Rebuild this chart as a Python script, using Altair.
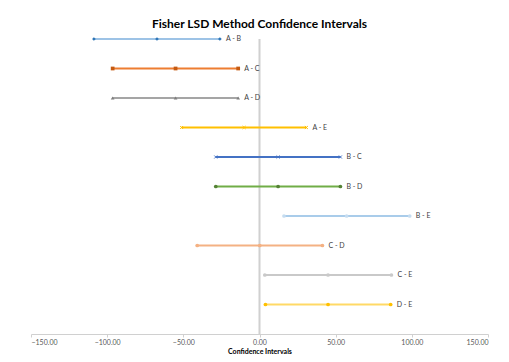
import altair as alt
import pandas as pd

pairs = ["A - B", "A - C", "A - D", "A - E", "B - C", "B - D", "B - E", "C - D", "C - E", "D - E"]
lower = [-108.7, -96.4, -96.4, -51.1, -28.7, -28.7, 16.1, -40.9, 3.5, 3.9]
diff = [-67.3, -55.1, -55.1, -10.1, 12.2, 12.2, 57.2, 0.2, 45.0, 45.0]
upper = [-26.0, -14.0, -14.0, 30.8, 53.1, 53.1, 98.6, 41.3, 86.6, 86.1]
rows = [10, 9, 8, 7, 6, 5, 4, 3, 2, 1]
x_ticks = [-150, -100, -50, 0, 50, 100, 150]

line_colors = ["#9DC3E6", "#ED7D31", "#A5A5A5", "#FFC000", "#4472C4",
               "#70AD47", "#A9CCEA", "#F4B183", "#C9C9C9", "#FFD966"]
marker_colors = ["#2E75B6", "#C55A11", "#7F7F7F", "#FFC000", "#4472C4",
                 "#548235", "#C5DCF0", "#F4B183", "#C9C9C9", "#FFC000"]
xpath = "M-0.8,-0.8L0.8,0.8M-0.8,0.8L0.8,-0.8"
marker_shapes = ["diamond", "square", "triangle-up", xpath, xpath,
                 "circle", "circle", "circle", "circle", "circle"]
marker_sizes = [14, 14, 14, 14, 14, 12, 4, 1, 1, 8]
cross_pairs = ["A - E", "B - C"]

df = pd.DataFrame({"pair": pairs, "row": rows, "lower": lower, "diff": diff, "upper": upper})
pts = df.melt(id_vars=["pair", "row"], value_vars=["lower", "diff", "upper"],
              var_name="which", value_name="val")

xscale = alt.Scale(domain=[-150, 150], nice=False, zero=False)
yscale = alt.Scale(domain=[0, 10], nice=False, zero=False)

base = alt.Chart(df)

zero_line = alt.Chart(pd.DataFrame({"x": [0], "y": [0], "y2": [10]})).mark_rule(
    color="#D0D0D0", strokeWidth=2
).encode(
    x=alt.X("x:Q", scale=xscale),
    y=alt.Y("y:Q", scale=yscale, axis=None),
    y2="y2:Q",
)

rules = base.mark_rule(strokeWidth=2).encode(
    x=alt.X("lower:Q", scale=xscale, title="Confidence Intervals",
            axis=alt.Axis(values=x_ticks, format=".2f", grid=False,
                          labelFontSize=7, labelColor="#595959", labelFont="Lato",
                          domainColor="#D0D0D0", tickColor="#D0D0D0", tickSize=3,
                          labelPadding=1, titleFont="Lato", titleFontSize=7,
                          titleFontWeight="bold", titleColor="#000000", titlePadding=2)),
    x2="upper:Q",
    y=alt.Y("row:Q", scale=yscale, axis=None),
    color=alt.Color("pair:N", scale=alt.Scale(domain=pairs, range=line_colors), legend=None),
)

mcolor = alt.Color("pair:N", scale=alt.Scale(domain=pairs, range=marker_colors), legend=None)
mshape = alt.Shape("pair:N", scale=alt.Scale(domain=pairs, range=marker_shapes), legend=None)
msize = alt.Size("pair:N", scale=alt.Scale(domain=pairs, range=marker_sizes), legend=None)

points_filled = alt.Chart(pts).transform_filter(
    ~alt.FieldOneOfPredicate(field="pair", oneOf=cross_pairs)
).mark_point(filled=True, opacity=1).encode(
    x=alt.X("val:Q", scale=xscale),
    y=alt.Y("row:Q", scale=yscale, axis=None),
    color=mcolor, shape=mshape, size=msize,
)

points_cross = alt.Chart(pts).transform_filter(
    alt.FieldOneOfPredicate(field="pair", oneOf=cross_pairs)
).mark_point(filled=False, strokeWidth=1, opacity=1).encode(
    x=alt.X("val:Q", scale=xscale),
    y=alt.Y("row:Q", scale=yscale, axis=None),
    color=mcolor, shape=mshape, size=msize,
)

labels = base.mark_text(align="left", baseline="middle", dx=6, fontSize=7,
                        font="Lato", color="#404040").encode(
    x=alt.X("upper:Q", scale=xscale),
    y=alt.Y("row:Q", scale=yscale, axis=None),
    text="pair:N",
)

chart = alt.layer(zero_line, rules, points_filled, points_cross, labels).resolve_scale(
    color="independent"
).properties(
    width=457,
    height=295,
    title=alt.TitleParams("Fisher LSD Method Confidence Intervals", font="Lato",
                          fontSize=12, fontWeight="bold", color="#000000",
                          anchor="middle", offset=12, baseline="bottom", dy=20),
    autosize=alt.AutoSizeParams(type="none"),
    padding={"left": 23, "top": 31, "right": 10, "bottom": 20},
).configure(background="white", view=alt.ViewConfig(stroke=None))

chart.save("out.html", embed_options={"renderer": "svg", "actions": False})
